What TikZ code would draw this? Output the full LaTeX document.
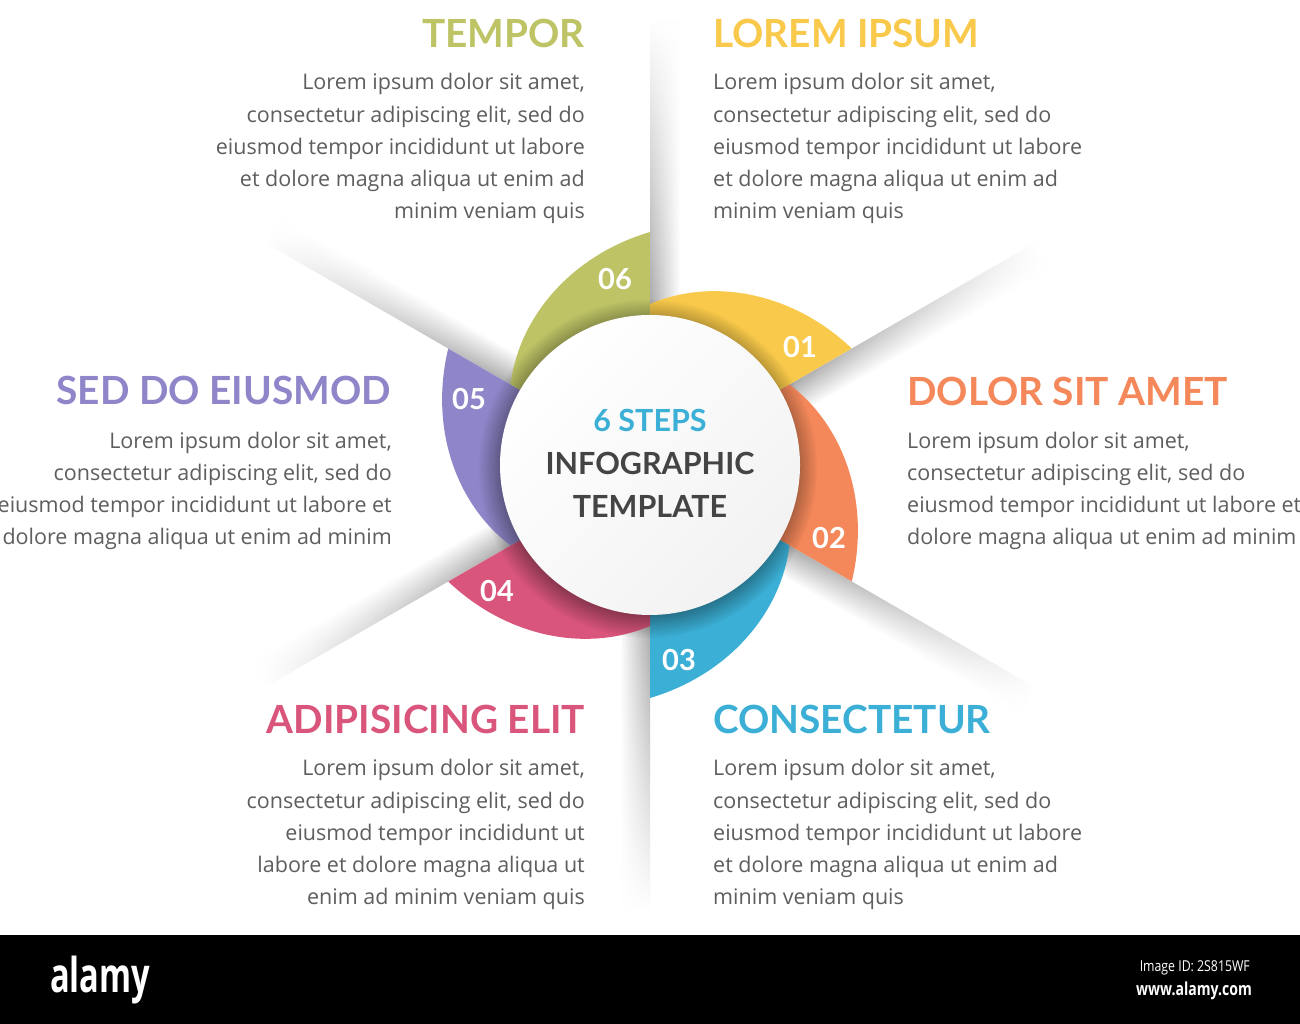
\documentclass[tikz,border=0pt]{standalone}
\usepackage{fontspec}
\usepackage{graphicx}
\usetikzlibrary{shadows,fadings}
\setmainfont{Open Sans}
\newfontfamily\lato{Lato}
\definecolor{cA}{HTML}{F8C94A}
\definecolor{cB}{HTML}{F4885A}
\definecolor{cC}{HTML}{3BAFD5}
\definecolor{cD}{HTML}{D9557B}
\definecolor{cE}{HTML}{8E86C9}
\definecolor{cF}{HTML}{BEC466}
\definecolor{bodygray}{HTML}{5E5E5E}
\definecolor{hubtext}{HTML}{444444}
\tikzfading[name=bandfade, left color=transparent!0, middle color=transparent!0, right color=transparent!100]
\begin{document}
\begin{tikzpicture}[x=1pt,y=1pt,
  titlestyle/.style={font=\lato\bfseries\fontsize{38.8}{39}\selectfont, inner sep=0},
  bodystyle/.style={font=\fontsize{21.5}{32}\selectfont, text=bodygray, inner sep=0},
  numstyle/.style={font=\lato\bfseries\fontsize{29}{29}\selectfont, text=white, inner sep=0},
  hubstyle/.style={font=\lato\bfseries\fontsize{30.5}{30}\selectfont, inner sep=0, anchor=base}]
\useasboundingbox (0,0) rectangle (1300,1024);
\fill[white] (0,0) rectangle (1300,1024);
\fill[black] (0,0) rectangle (1300,89);

% shadow bands along the dividers
\foreach \a in {90,30,-30,-90,-150,150}{
  \begin{scope}[transform canvas={shift={(650,559)}, rotate=\a}]
    \shade[path fading=bandfade, top color=black!34, bottom color=white] (150,-30) rectangle (445,0);
  \end{scope}
}

% coloured segments
\begin{scope}[shift={(650,559)}]
  \foreach \a/\c in {90/cA,30/cB,-30/cC,-90/cD,-150/cE,150/cF}
    \fill[\c] (0,0) -- plot[domain=0:1, samples=50, variable=\t] ({\a-60*\t}:{161+72*\t}) -- cycle;
\end{scope}

% hub
\node[circle, minimum size=300pt, inner sep=0,
  circular drop shadow={shadow xshift=-2pt, shadow yshift=-3pt, shadow scale=1.13, fill=black, opacity=.38},
  top color=white, bottom color=black!5, shading angle=45] (hub) at (650,559) {};
\node[hubstyle, text=cC] (h1) at (650,592) {6 STEPS};
\node[hubstyle, text=hubtext] (h2) at (650,549) {INFOGRAPHIC};
\node[hubstyle, text=hubtext] (h3) at (650,506) {TEMPLATE};

% numbers
\node[numstyle] (n1) at (800,677) {01};
\node[numstyle] (n2) at (829,486) {02};
\node[numstyle] (n3) at (679,364) {03};
\node[numstyle] (n4) at (497,433) {04};
\node[numstyle] (n5) at (469,625) {05};
\node[numstyle] (n6) at (615,745) {06};

% titles
\node[titlestyle, text=cF, anchor=base east] (tl) at (585,976) {TEMPOR};
\node[titlestyle, text=cA, anchor=base west] (tr) at (713,976) {LOREM IPSUM};
\node[titlestyle, text=cE, anchor=base east] (ml) at (391,619) {SED DO EIUSMOD};
\node[titlestyle, text=cB, anchor=base west] (mr) at (907,618) {DOLOR SIT AMET};
\node[titlestyle, text=cD, anchor=base east] (bl) at (585,290) {ADIPISICING ELIT};
\node[titlestyle, text=cC, anchor=base west] (br) at (713,290) {CONSECTETUR};

% body texts
\foreach \l [count=\i] in {{Lorem ipsum dolor sit amet,},{consectetur adipiscing elit, sed do},{eiusmod tempor incididunt ut labore},{et dolore magna aliqua ut enim ad},{minim veniam quis}}{
  \node[bodystyle, anchor=base east] (tlb\i) at (585,{934-(\i-1)*32.1}) {\l};
  \node[bodystyle, anchor=base west] (trb\i) at (713,{934-(\i-1)*32.1}) {\l};
  \node[bodystyle, anchor=base west] (brb\i) at (713,{248-(\i-1)*32.1}) {\l};
}
\foreach \l [count=\i] in {{Lorem ipsum dolor sit amet,},{consectetur adipiscing elit, sed do},{eiusmod tempor incididunt ut labore et},{dolore magna aliqua ut enim ad minim}}{
  \node[bodystyle, anchor=base east] (mlb\i) at (392,{575.5-(\i-1)*32.1}) {\l};
  \node[bodystyle, anchor=base west] (mrb\i) at (907,{575.5-(\i-1)*32.1}) {\l};
}
\foreach \l [count=\i] in {{Lorem ipsum dolor sit amet,},{consectetur adipiscing elit, sed do},{eiusmod tempor incididunt ut},{labore et dolore magna aliqua ut},{enim ad minim veniam quis}}{
  \node[bodystyle, anchor=base east] (blb\i) at (585,{248-(\i-1)*32.1}) {\l};
}

% footer
\node[text=white, anchor=base west, inner sep=0, font=\bfseries\fontsize{48}{48}\selectfont] (logo) at (50,31) {\scalebox{0.68}[1]{alamy}};
\node[text=white, anchor=base east, inner sep=0, font=\fontsize{15}{15}\selectfont] (imgid) at (1250,52) {\scalebox{0.82}[1]{Image ID: 2S815WF}};
\node[text=white, anchor=base east, inner sep=0, font=\bfseries\fontsize{18}{18}\selectfont] (www) at (1252,28) {\scalebox{0.78}[1]{www.alamy.com}};
\end{tikzpicture}
\end{document}
